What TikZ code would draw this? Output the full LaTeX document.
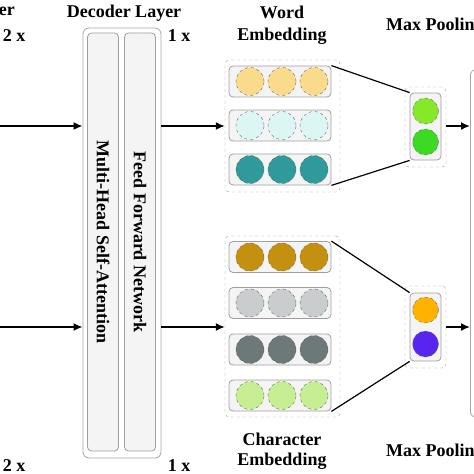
\documentclass[tikz,border=0pt]{standalone}
\usepackage{fontspec}
\setmainfont{Liberation Serif}
\usetikzlibrary{arrows.meta}
\definecolor{wyel}{HTML}{F9DB8B}
\definecolor{wcyan}{HTML}{DCF6F6}
\definecolor{wteal}{HTML}{30999C}
\definecolor{cgold}{HTML}{C4900F}
\definecolor{clgray}{HTML}{C9CDCD}
\definecolor{cdgray}{HTML}{6D7878}
\definecolor{clime}{HTML}{C6EE93}
\definecolor{plime}{HTML}{86E82A}
\definecolor{pgreen}{HTML}{3CDB22}
\definecolor{porange}{HTML}{FFB300}
\definecolor{pviolet}{HTML}{5A24F0}
\tikzset{lbl/.style={font=\bfseries\fontsize{18}{20}\selectfont, inner sep=0pt},
         grp/.style={draw=gray!80, dashed, rounded corners=4pt, inner sep=0pt},
         rowbox/.style={draw=gray!75, fill=gray!9, rounded corners=4pt, line width=.8pt,
                        minimum width=102pt, minimum height=31pt, inner sep=0pt},
         colbox/.style={draw=gray!75, fill=gray!9, rounded corners=4pt, line width=.8pt,
                        minimum width=31pt, inner sep=0pt},
         unit/.style={circle, draw=black!60, dashed, fill=#1,
                      minimum size=28pt, inner sep=0pt},
         arr/.style={-{Latex[length=9pt,width=8pt]}, line width=1.6pt}}

\begin{document}
\begin{tikzpicture}[x=1pt, y=-1pt]
    \useasboundingbox (0,0) rectangle (474,474);

    % labels
    \node[lbl, anchor=base east] (enc) at (15,15) {er};
    \node[lbl, anchor=base] (encn) at (14,41) {2 x};
    \node[lbl, anchor=base] (encb) at (14,471) {2 x};
    \node[lbl, anchor=base] (dect) at (124,17) {Decoder Layer};
    \node[lbl, anchor=base] (decn) at (179,41) {1 x};
    \node[lbl, anchor=base] (decb) at (179,471) {1 x};
    \node[lbl, anchor=base] (wt1) at (282,18) {Word};
    \node[lbl, anchor=base] (wt2) at (282,40) {Embedding};
    \node[lbl, anchor=base] (ct1) at (282,445) {Character};
    \node[lbl, anchor=base] (ct2) at (282,465) {Embedding};
    \node[lbl, anchor=base west] (pt1) at (386,30) {Max Poolin};
    \node[lbl, anchor=base west] (pt2) at (386,456) {Max Poolin};

    % decoder layer
    \node[draw=gray!70, line width=.8pt, rounded corners=6pt, minimum width=78pt,
          minimum height=430pt] (dec) at (122,243) {};
    \node[colbox, minimum height=418pt] (mha) at (103,242) {};
    \node[colbox, minimum height=418pt] (ffn) at (140,242) {};
    \node[lbl, rotate=-90] at (mha) {Multi-Head Self-Attention};
    \node[lbl, rotate=-90] at (ffn) {Feed Forward Network};

    % word embedding
    \node[grp, minimum width=115pt, minimum height=132pt] (wgrp) at (282.5,126) {};
    \node[rowbox] (w1) at (280,81.5) {};
    \node[rowbox] (w2) at (280,125.5) {};
    \node[rowbox] (w3) at (280,169.5) {};
    \foreach \x in {250,282,314} {
      \node[unit=wyel] at (\x,81.5) {};
      \node[unit=wcyan] at (\x,125.5) {};
      \node[unit=wteal] at (\x,169.5) {};
    }

    % character embedding
    \node[grp, minimum width=115pt, minimum height=181pt] (cgrp) at (282.5,326.5) {};
    \node[rowbox] (c1) at (280,257) {};
    \node[rowbox] (c2) at (280,303) {};
    \node[rowbox] (c3) at (280,349.5) {};
    \node[rowbox] (c4) at (280,395.5) {};
    \foreach \x in {250,282,314} {
      \node[unit=cgold] at (\x,257) {};
      \node[unit=clgray] at (\x,303) {};
      \node[unit=cdgray] at (\x,349.5) {};
      \node[unit=clime] at (\x,395.5) {};
    }

    % max pooling
    \node[grp, minimum width=41pt, minimum height=80pt] (wpool) at (425.5,127) {};
    \node[colbox, minimum height=67pt] (wpin) at (425.5,126.5) {};
    \node[unit=plime, minimum size=26pt] (wp1) at (425.5,111) {};
    \node[unit=pgreen, minimum size=26pt] (wp2) at (425.5,142) {};
    \node[grp, minimum width=41pt, minimum height=82pt] (cpool) at (425.5,327) {};
    \node[colbox, minimum height=68pt] (cpin) at (425.5,327) {};
    \node[unit=porange, minimum size=26pt] (cp1) at (425.5,310) {};
    \node[unit=pviolet, minimum size=26pt] (cp2) at (425.5,344) {};

    % next block, cut at the edge
    \node[draw=gray!70, line width=.8pt, rounded corners=6pt, minimum width=30pt,
          minimum height=348pt, anchor=north west] (nxt) at (470,69) {};

    % connectors
    \coordinate (inw) at (0,126);
    \coordinate (inc) at (0,327);
    \draw[arr] (inw) -- (dec.west |- inw);
    \draw[arr] (inc) -- (dec.west |- inc);
    \draw[arr] (dec.east |- inw) -- (wgrp.west |- inw);
    \draw[arr] (dec.east |- inc) -- (cgrp.west |- inc);
    \draw[line width=1.2pt] (w1.north east) -- (wpin.north west);
    \draw[line width=1.2pt] (w3.south east) -- (wpin.south west);
    \draw[line width=1.2pt] (c1.north east) -- (cpin.north west);
    \draw[line width=1.2pt] (c4.south east) -- (cpin.south west);
    \draw[arr] (wpool.east |- inw) -- (nxt.west |- inw);
    \draw[arr] (cpool.east |- inc) -- (nxt.west |- inc);
\end{tikzpicture}
\end{document}
